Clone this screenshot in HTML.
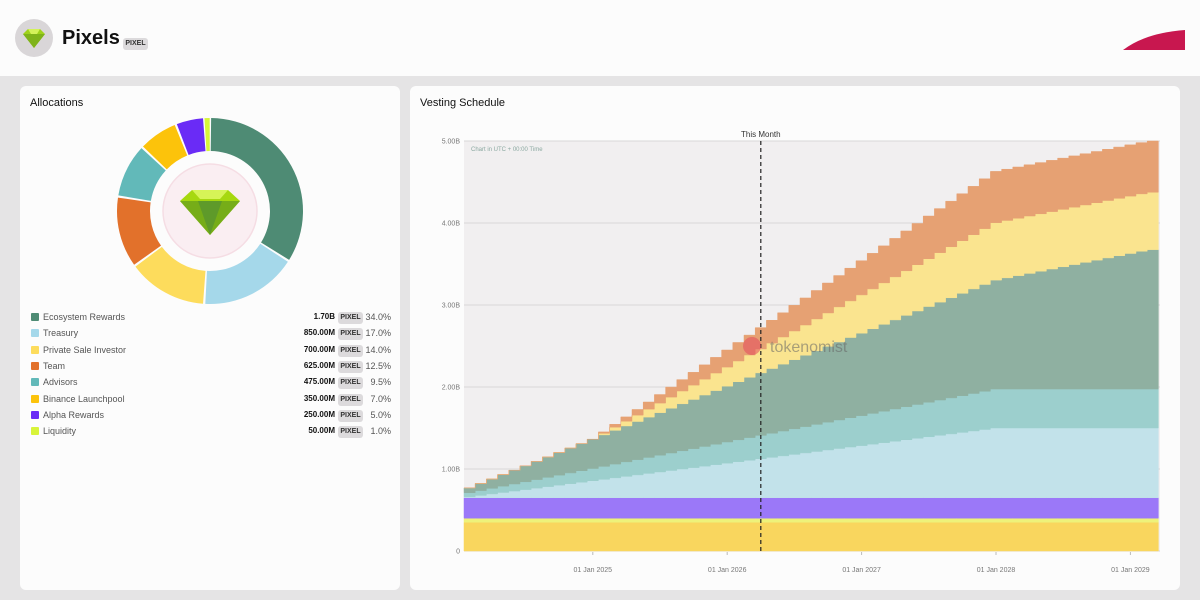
<!DOCTYPE html>
<html><head><meta charset="utf-8">
<style>
*{box-sizing:border-box;margin:0;padding:0}
body{width:1200px;height:600px;background:#e5e4e5;font-family:"Liberation Sans",sans-serif;position:relative;overflow:hidden}
.hdr{position:absolute;left:0;top:0;width:1200px;height:76px;background:#fcfcfc}
.card{position:absolute;background:#fcfcfc;border-radius:6px}
.badge{display:inline-block;background:#dcdadc;color:#333;border-radius:3px;font-size:7px;padding:2px 0;width:25px;text-align:center;font-weight:bold;line-height:8px}
.row{position:absolute;left:11px;width:360px;height:14px;font-size:9px;color:#555}
.row .sq{position:absolute;left:0;top:3px;width:8px;height:8px;border-radius:1px}
.row .nm{position:absolute;left:12px;top:2px}
.row .am{position:absolute;right:56px;top:2px;color:#111;font-weight:bold;font-size:8px}
.row .bd{position:absolute;right:28px;top:1px}
.row .pc{position:absolute;right:0;top:2px;color:#555}
</style></head><body>
<div class="hdr">
  <svg width="40" height="40" style="position:absolute;left:14px;top:18px">
    <circle cx="20" cy="20" r="19" fill="#d9d6d8"/>
    <polygon points="9,16 14,11 26,11 31,16 20,30" fill="#9fd21a"/>
    <polygon points="9,16 31,16 20,30" fill="#7fb31a"/>
    <polygon points="14,11 26,11 23,16 17,16" fill="#d4f25a"/>
  </svg>
  <div style="position:absolute;left:62px;top:27px;font-size:20px;font-weight:bold;color:#111">Pixels</div>
  <div style="position:absolute;left:123px;top:32px"><span class="badge">PIXEL</span></div>
  <svg width="70" height="30" style="position:absolute;left:1120px;top:25px">
    <path d="M3 25 Q25 8 65 5 L65 25 Z" fill="#c8174f"/>
  </svg>
</div>

<div class="card" style="left:20px;top:86px;width:380px;height:504px">
  <div style="position:absolute;left:10px;top:11px;font-size:11px;color:#111;font-weight:500">Allocations</div>
  <svg id="donut" width="380" height="230" style="position:absolute;left:0;top:0"></svg>
  <div id="legend"></div>
</div>

<div class="card" style="left:410px;top:86px;width:770px;height:504px">
  <div style="position:absolute;left:10px;top:11px;font-size:11px;color:#111;font-weight:500">Vesting Schedule</div>
</div>
<svg id="chart" width="1200" height="600" style="position:absolute;left:0;top:0"></svg>

<script>
const NS="http://www.w3.org/2000/svg";
function mk(tag,attrs,parent){const e=document.createElementNS(NS,tag);for(const k in attrs)e.setAttribute(k,attrs[k]);parent.appendChild(e);return e;}

// ---- Allocation data ----
const allocNames=["Ecosystem Rewards","Treasury","Private Sale Investor","Team","Advisors","Binance Launchpool","Alpha Rewards","Liquidity"];
const allocAmounts=["1.70B","850.00M","700.00M","625.00M","475.00M","350.00M","250.00M","50.00M"];
const allocPct=[34.0,17.0,14.0,12.5,9.5,7.0,5.0,1.0];
const allocColors=["#4e8b74","#a5d8ea","#fddc5c","#e2712b","#62b9b9","#fcc30b","#6a2bf6","#d8f43a"];

const donut=document.getElementById('donut');
const cx=190,cy=125,ro=93,ri=60;
let acc=0;
allocPct.forEach((p,i)=>{
  const gap=p<2?0.4:1.4;
  const a0=(acc/100)*360+gap/2, a1=((acc+p)/100)*360-gap/2; acc+=p;
  const r=a=>(a-90)*Math.PI/180;
  const P=(rad,a)=>[cx+rad*Math.cos(r(a)),cy+rad*Math.sin(r(a))];
  const large=(a1-a0)>180?1:0;
  const [x1,y1]=P(ro,a0),[x2,y2]=P(ro,a1),[x3,y3]=P(ri,a1),[x4,y4]=P(ri,a0);
  const seg=mk('path',{d:`M${x1} ${y1} A${ro} ${ro} 0 ${large} 1 ${x2} ${y2} L${x3} ${y3} A${ri} ${ri} 0 ${large} 0 ${x4} ${y4} Z`,fill:allocColors[i]},donut);
  
  
});
const inner=mk('circle',{cx:cx,cy:cy,r:47,fill:"#faeef2",stroke:"#f5dde4","stroke-width":1.5},donut);


const gem=mk('g',{},donut);


mk('polygon',{points:`${cx-30},${cy-10} ${cx-18},${cy-21} ${cx+18},${cy-21} ${cx+30},${cy-10} ${cx},${cy+24}`,fill:"#a6d80f"},gem);
mk('polygon',{points:`${cx-30},${cy-10} ${cx+30},${cy-10} ${cx},${cy+24}`,fill:"#76ad18"},gem);
mk('polygon',{points:`${cx-12},${cy-10} ${cx+12},${cy-10} ${cx},${cy+24}`,fill:"#5e9a2a"},gem);
mk('polygon',{points:`${cx-18},${cy-21} ${cx+18},${cy-21} ${cx+10},${cy-12} ${cx-10},${cy-12}`,fill:"#d6f457"},gem);

const legend=document.getElementById('legend');
allocNames.forEach((n,i)=>{
  const row=document.createElement('div');
  row.className='row';row.style.top=(224+i*16.3)+'px';
  
  
  row.innerHTML=`<span class="sq" style="background:${allocColors[i]}"></span><span class="nm">${n}</span><span class="am">${allocAmounts[i]}</span><span class="bd"><span class="badge">PIXEL</span></span><span class="pc">${allocPct[i].toFixed(1)}%</span>`;
  legend.appendChild(row);
});

// ---- Vesting data (cumulative unlocked, millions), monthly from Feb 2024 ----
const binance=Array(62).fill(350);
const liquidity=Array(62).fill(50);
const alpha=Array(62).fill(250);
const treasury=[10,28,46,64,81,99,117,135,153,171,189,207,224,242,260,278,296,314,332,350,367,385,403,421,439,457,475,492,510,528,546,564,582,600,618,635,653,671,689,707,725,743,761,778,796,814,832,850,850,850,850,850,850,850,850,850,850,850,850,850,850,850];
const advisors=[50,59,68,77,86,95,104,113,122,131,140,149,158,168,177,186,195,204,213,222,231,240,249,258,267,276,285,294,303,312,321,330,339,348,357,366,375,384,393,403,412,421,430,439,448,457,466,475,475,475,475,475,475,475,475,475,475,475,475,475,475,475];
const ecosystem=[60,87,114,141,168,195,222,249,276,303,330,357,384,411,438,465,492,519,546,573,600,627,654,681,708,735,762,789,816,843,870,897,924,951,978,1005,1032,1059,1086,1113,1140,1167,1194,1221,1248,1275,1302,1329,1356,1383,1410,1437,1464,1491,1518,1545,1572,1599,1626,1653,1680,1700];
const privateSale=[0,0,0,0,0,0,0,0,0,0,0,0,19,39,58,78,97,117,136,156,175,194,214,233,253,272,292,311,331,350,369,389,408,428,447,467,486,506,525,544,564,583,603,622,642,661,681,700,700,700,700,700,700,700,700,700,700,700,700,700,700,700];
const team=[0,0,0,0,0,0,0,0,0,0,0,0,17,35,52,69,87,104,122,139,156,174,191,208,226,243,260,278,295,313,330,347,365,382,399,417,434,451,469,486,503,521,538,556,573,590,608,625,625,625,625,625,625,625,625,625,625,625,625,625,625,625];
const seriesNames=["binance","liquidity","alpha","treasury","advisors","ecosystem","private-sale","team"];
const seriesColors=["#f9d65e","#eef27a","#9b78f8","#c2e2ea","#9ccfcd","#8fb0a1","#fae48f","#e6a173"];
const yTicks=[0,1000,2000,3000,4000,5000];
const yTickLabels=["0","1.00B","2.00B","3.00B","4.00B","5.00B"];
const xTickMonths=[11,23,35,47,59];
const xTickLabels=["01 Jan 2025","01 Jan 2026","01 Jan 2027","01 Jan 2028","01 Jan 2029"];
const thisMonth=26.5;

const chart=document.getElementById('chart');
const X0=464,MW=11.2,Y0=551,YS=410/5000;
const xS=m=>X0+m*MW, yS=v=>Y0-v*YS;
const bg=mk('rect',{x:464,y:141,width:696,height:410,fill:"#f1eff0"},chart);


yTicks.forEach((v,i)=>{
  const g=mk('line',{x1:464,x2:1160,y1:yS(v),y2:yS(v),stroke:"#d9d7d8","stroke-width":1},chart);
  
  
  const t=mk('text',{x:460,y:yS(v)+2.5,"text-anchor":"end","font-size":7,fill:"#777","font-family":"Liberation Sans"},chart);
  t.textContent=yTickLabels[i];
  
  
});
const layers=[binance,liquidity,alpha,treasury,advisors,ecosystem,privateSale,team];
const n=treasury.length;
let base=Array(n).fill(0);
layers.forEach((arr,li)=>{
  const top=base.map((b,i)=>b+arr[i]);
  let d=`M${xS(0)} ${yS(base[0])}`;
  for(let i=0;i<n;i++){d+=` L${xS(i)} ${yS(top[i])} L${xS(i+1)} ${yS(top[i])}`;}
  for(let i=n-1;i>=0;i--){d+=` L${xS(i+1)} ${yS(base[i])} L${xS(i)} ${yS(base[i])}`;}
  d+='Z';
  const p=mk('path',{d:d,fill:seriesColors[li],stroke:seriesColors[li],"stroke-width":0.5},chart);
  
  
  base=top;
});
xTickMonths.forEach((m,i)=>{
  const tk=mk('line',{x1:xS(m)+MW/2,x2:xS(m)+MW/2,y1:552,y2:555,stroke:"#bbb"},chart);
  
  
  const t=mk('text',{x:xS(m)+MW/2,y:572,"text-anchor":"middle","font-size":7,fill:"#777","font-family":"Liberation Sans"},chart);
  t.textContent=xTickLabels[i];
  
  
});
const tmx=xS(thisMonth);
const tl=mk('line',{x1:tmx,x2:tmx,y1:141,y2:551,stroke:"#222","stroke-width":1.2,"stroke-dasharray":"4,3"},chart);


const tt=mk('text',{x:tmx,y:137,"text-anchor":"middle","font-size":8,fill:"#333","font-family":"Liberation Sans"},chart);
tt.textContent="This Month";


const utc=mk('text',{x:471,y:151,"font-size":6,fill:"#8aa8a0","font-family":"Liberation Sans"},chart);
utc.textContent="Chart in UTC + 00:00 Time";


const wm=mk('g',{opacity:0.55},chart);


mk('circle',{cx:752,cy:346,r:9,fill:"#e34b5c"},wm);
const wt=mk('text',{x:770,y:352,"font-size":16,fill:"#666","font-family":"Liberation Sans"},wm);
wt.textContent="tokenomist";
</script>
</body></html>
